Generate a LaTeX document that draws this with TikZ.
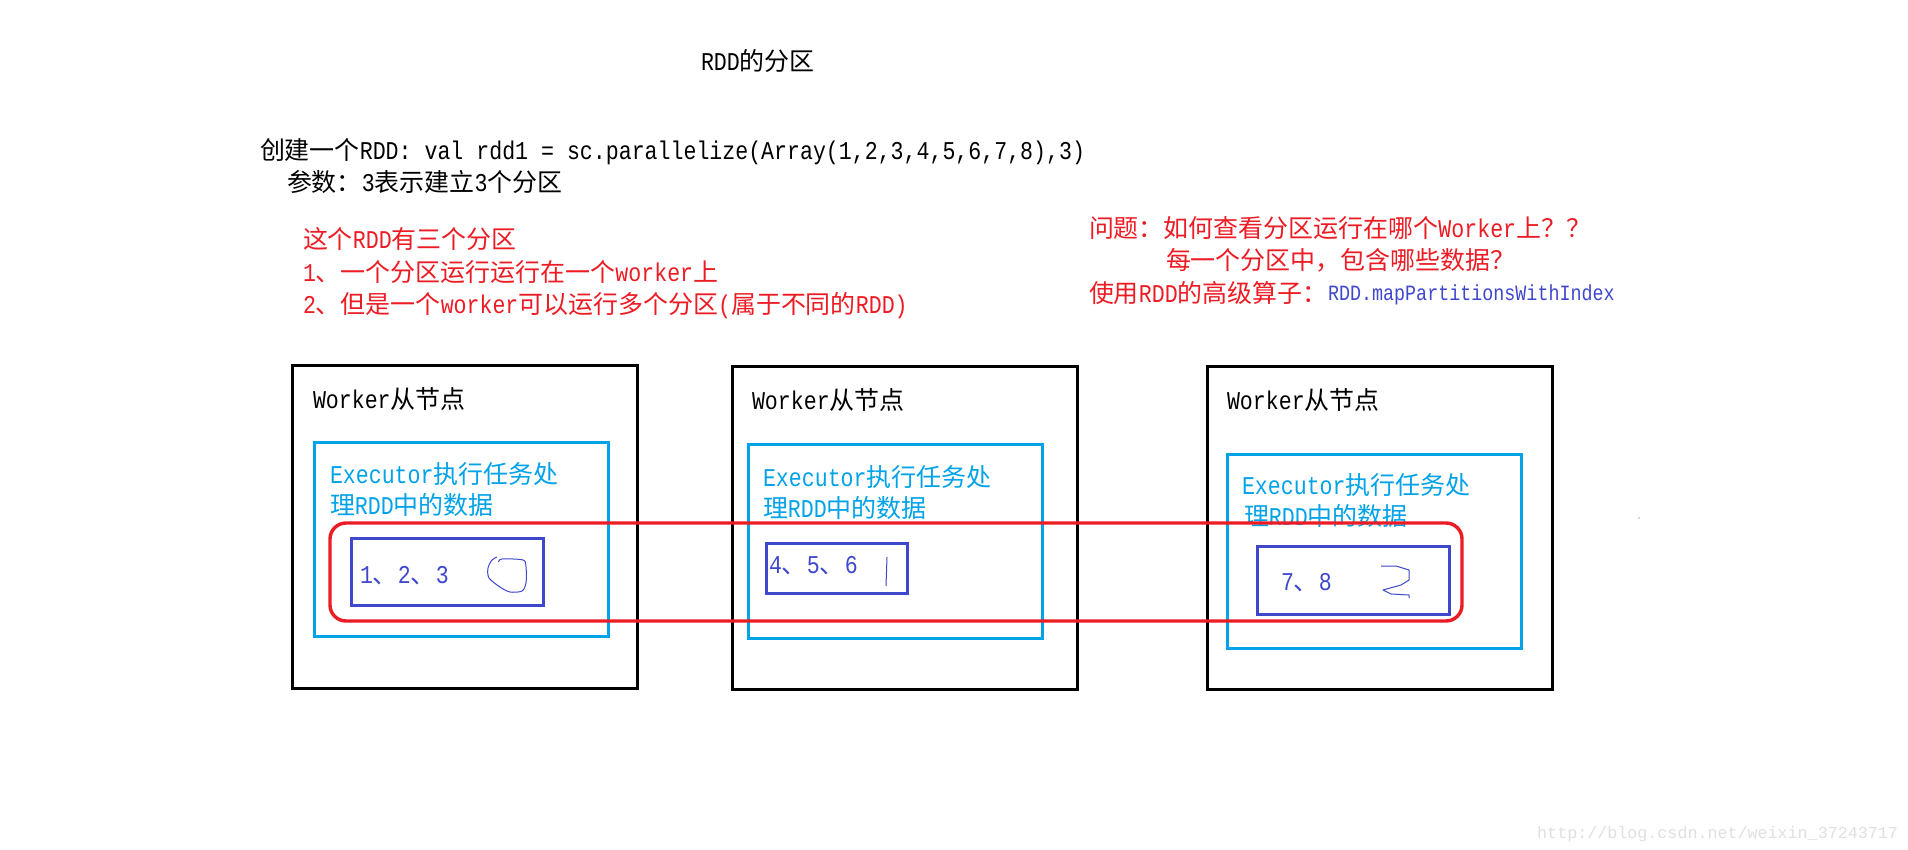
\documentclass[tikz,border=0pt]{standalone}
\usepackage{fontspec}
\setmainfont{Liberation Mono}[FakeStretch=0.843]
\newfontfamily\cjk{Noto Sans CJK SC}[Scale=0.975]
\newfontfamily\wmfont{Liberation Mono}
\newcommand{\zh}[1]{{\cjk #1}}
\definecolor{msred}{HTML}{ED1C24}
\definecolor{mscyan}{HTML}{00A2E8}
\definecolor{msblue}{HTML}{3F48CC}
\tikzset{
  txt/.style={anchor=base west,inner sep=0pt,outer sep=0pt,font=\fontsize{25.6}{30}\selectfont},
  blk/.style={txt,text=black},
  redt/.style={txt,text=msred},
  cyant/.style={txt,text=mscyan},
  bluet/.style={txt,text=msblue},
  small/.style={anchor=base west,inner sep=0pt,outer sep=0pt,text=msblue,font=\fontsize{21.8}{26}\selectfont},
  boxbase/.style={draw,line width=3pt,anchor=north west,inner sep=0pt,outer sep=0pt},
  workerbox/.style={boxbase,draw=black,minimum width=345pt,minimum height=323pt},
  execbox/.style={boxbase,draw=mscyan,minimum width=294pt,minimum height=194pt},
  databox/.style={boxbase,draw=msblue},
  ring/.style={boxbase,draw=msred,line width=3.4pt,rounded corners=16pt,minimum width=1132pt,minimum height=98pt},
  pen/.style={draw=msblue,line width=1pt}
}
\begin{document}
\begin{tikzpicture}[x=1pt,y=-1pt]
\useasboundingbox (0,0) rectangle (1908,850);
\fill[white] (0,0) rectangle (1908,850);

\node[blk] (title) at (701,71) {RDD\zh{的分区}};
\node[blk] (code) at (260,160) {\zh{创建一个}RDD: val rdd1 = sc.parallelize(Array(1,2,3,4,5,6,7,8),3)};
\node[blk] (param) at (287,192) {\zh{参数：}3\zh{表示建立}3\zh{个分区}};

\node[redt] (r1) at (303,249) {\zh{这个}RDD\zh{有三个分区}};
\node[redt] (r2) at (303,281) {1\zh{、一个分区运行运行在一个}worker\zh{上}};
\node[redt] (r3) at (303,313) {2\zh{、但是一个}worker\zh{可以运行多个分区}(\zh{属于不同的}RDD)};

\node[redt] (q1) at (1089,238) {\zh{问题：如何查看分区运行在哪个}Worker\zh{上？？}};
\node[redt] (q2) at (1166,270) {\zh{每一个分区中，包含哪些数据？}};
\node[redt] (q3) at (1089,302) {\zh{使用}RDD\zh{的高级算子：}};
\node[small] (api) at (1328,301) {RDD.mapPartitionsWithIndex};

\node[workerbox] (w1) at (292,365) {};
\node[workerbox] (w2) at (732,366) {};
\node[workerbox] (w3) at (1207,366) {};
\node[blk] (w1t) at (313,408) {Worker\zh{从节点}};
\node[blk] (w2t) at (752,409) {Worker\zh{从节点}};
\node[blk] (w3t) at (1227,409) {Worker\zh{从节点}};

\node[execbox] (e1) at (314,442) {};
\node[execbox] (e2) at (748,444) {};
\node[execbox] (e3) at (1227,454) {};
\node[cyant] (e1a) at (330,483) {Executor\zh{执行任务处}};
\node[cyant] (e1b) at (330,514) {\zh{理}RDD\zh{中的数据}};
\node[cyant] (e2a) at (763,486) {Executor\zh{执行任务处}};
\node[cyant] (e2b) at (763,517) {\zh{理}RDD\zh{中的数据}};
\node[cyant] (e3a) at (1242,494) {Executor\zh{执行任务处}};
\node[cyant] (e3b) at (1244,525) {\zh{理}RDD\zh{中的数据}};

\node[databox,minimum width=192pt,minimum height=67pt] (d1) at (351,538) {};
\node[databox,minimum width=141pt,minimum height=50pt] (d2) at (766,543) {};
\node[databox,minimum width=192pt,minimum height=68pt] (d3) at (1257,546) {};
\node[bluet] (d1t) at (360,583) {1\zh{、}2\zh{、}3};
\node[bluet] (d2t) at (769,573) {4\zh{、}5\zh{、}6};
\node[bluet] (d3t) at (1281,590) {7\zh{、}8};

\draw[pen,line join=round] plot[smooth] coordinates {(498.6,562) (502,559) (523,560) (526,567) (526,583) (522,591) (510,592) (500,587) (489,578) (488,568) (492,560) (497,557)};
\draw[pen] (887,557) -- (886,586);
\draw[pen,line join=round] (1381,566) -- (1396,566) -- (1409,570) -- (1409,580) -- (1401,585) -- (1383,590) -- (1391,594) -- (1409,595) -- (1409,598);
\fill[msblue] (1639,518) circle (0.7pt);

\node[ring] (partition) at (330,523) {};

\node[anchor=base west,inner sep=0pt,text=black!12,font=\wmfont\fontsize{16.7}{20}\selectfont] (wm) at (1537,838) {http://blog.csdn.net/weixin\_37243717};
\end{tikzpicture}
\end{document}
